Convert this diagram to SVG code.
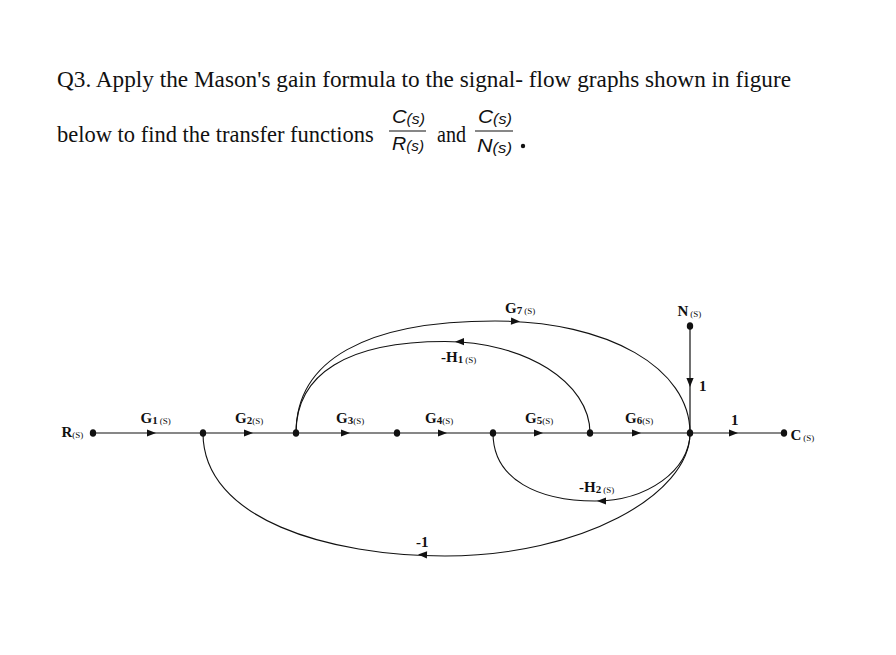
<svg xmlns="http://www.w3.org/2000/svg" xmlns:xlink="http://www.w3.org/1999/xlink" width="896" height="655" viewBox="0 0 896 655">
<style>
.title{font-family:"Liberation Serif","Times New Roman",serif;font-size:22.5px;fill:#111}
.frac{font-family:"Liberation Sans",Arial,sans-serif;font-style:italic;font-size:18px;fill:#111}
.frac tspan.s{font-size:14px}
.lbl{font-family:"Liberation Serif","Times New Roman",serif;font-weight:bold;font-size:15px;fill:#111}
.sub{font-size:11px}
.ss{font-size:9px;font-weight:normal}
.edge{fill:none;stroke:#111;stroke-width:1.2}
.arc{fill:none;stroke:#111;stroke-width:1.1}
.dot{fill:#111}
.ah{fill:#111}
</style>
<defs>
<path id="ah" d="M0,0 L-9,-3.6 L-9,3.6 z"/>
</defs>
<rect width="896" height="655" fill="#fff"/>
<g id="question">
<text class="title" x="57" y="86.5" textLength="734" lengthAdjust="spacingAndGlyphs">Q3. Apply the Mason's gain formula to the signal- flow graphs shown in figure</text>
<text class="title" x="57" y="142">below to find the transfer functions</text>
<text class="frac" x="392" y="123" textLength="33" lengthAdjust="spacingAndGlyphs">C<tspan class="s" dy="1">(s)</tspan></text>
<line x1="389" y1="131" x2="426" y2="131" stroke="#111" stroke-width="1.1"/>
<text class="frac" x="392" y="150" textLength="32" lengthAdjust="spacingAndGlyphs">R<tspan class="s" dy="1">(s)</tspan></text>
<text class="title" x="437" y="142" textLength="29" lengthAdjust="spacingAndGlyphs">and</text>
<text class="frac" x="478" y="123" textLength="34" lengthAdjust="spacingAndGlyphs">C<tspan class="s" dy="1">(s)</tspan></text>
<line x1="475" y1="131" x2="513" y2="131" stroke="#111" stroke-width="1.1"/>
<text class="frac" x="477" y="152" textLength="35" lengthAdjust="spacingAndGlyphs">N<tspan class="s" dy="1">(s)</tspan></text>
<circle cx="523" cy="146" r="2.2" fill="#111"/>
</g>
<g id="connectors">
<path class="edge" d="M93,433 H784"/>
<path class="edge" d="M690,326 V433"/>
<path class="arc" d="M296,433 C296,360 366,321 495,321 C608,321 690,368 690,433"/>
<path class="arc" d="M590,433 C590,382.5 525,341.5 445,341.5 C348,341.5 296,373.5 296,433"/>
<path class="arc" d="M690,433 C690,470 647.5,501 595,501 C539,501 493,480 493,433"/>
<path class="arc" d="M690,433 C690,495 580,556 445,556 C330,556 203,520 203,433"/>
<g class="ah">
<use xlink:href="#ah" href="#ah" transform="translate(156,433)"/>
<use xlink:href="#ah" href="#ah" transform="translate(253,433)"/>
<use xlink:href="#ah" href="#ah" transform="translate(350,433)"/>
<use xlink:href="#ah" href="#ah" transform="translate(447,433)"/>
<use xlink:href="#ah" href="#ah" transform="translate(543,433)"/>
<use xlink:href="#ah" href="#ah" transform="translate(641,433)"/>
<use xlink:href="#ah" href="#ah" transform="translate(738,433)"/>
<use xlink:href="#ah" href="#ah" transform="translate(690,387) rotate(90)"/>
<use xlink:href="#ah" href="#ah" transform="translate(520,321.5) rotate(2)"/>
<use xlink:href="#ah" href="#ah" transform="translate(455,341.7) rotate(180)"/>
<use xlink:href="#ah" href="#ah" transform="translate(597,501) rotate(180)"/>
<use xlink:href="#ah" href="#ah" transform="translate(418,554.6) rotate(182)"/>
</g>
</g>
<g id="labels">
<text class="lbl" x="140.5" y="423">G<tspan class="sub" dy="1">1</tspan><tspan class="ss" dx="2">(S)</tspan></text>
<text class="lbl" x="235" y="423">G<tspan class="sub" dy="1">2</tspan><tspan class="ss">(S)</tspan></text>
<text class="lbl" x="336" y="423">G<tspan class="sub" dy="1">3</tspan><tspan class="ss">(S)</tspan></text>
<text class="lbl" x="425" y="423">G<tspan class="sub" dy="1">4</tspan><tspan class="ss">(S)</tspan></text>
<text class="lbl" x="525" y="423">G<tspan class="sub" dy="1">5</tspan><tspan class="ss">(S)</tspan></text>
<text class="lbl" x="625" y="423">G<tspan class="sub" dy="1">6</tspan><tspan class="ss">(S)</tspan></text>
<text class="lbl" x="731" y="425">1</text>
<text class="lbl" x="505" y="313">G<tspan class="sub" dy="1">7</tspan><tspan class="ss" dx="2">(S)</tspan></text>
<text class="lbl" x="441" y="362">-H<tspan class="sub" dy="1">1</tspan><tspan class="ss" dx="2">(S)</tspan></text>
<text class="lbl" x="579" y="492">-H<tspan class="sub" dy="1">2</tspan><tspan class="ss" dx="2">(S)</tspan></text>
<text class="lbl" x="416" y="547">-1</text>
<text class="lbl" x="677.5" y="315.5">N<tspan class="ss" dx="2" dy="1">(S)</tspan></text>
<text class="lbl" x="699" y="391">1</text>
<text class="lbl" x="61.5" y="437">R<tspan class="ss" dy="1">(S)</tspan></text>
<text class="lbl" x="790.5" y="440">C<tspan class="ss" dx="2" dy="1">(S)</tspan></text>
</g>
<g id="nodes">
<g id="node-R"><ellipse class="dot" cx="93" cy="433" rx="3.2" ry="3.8"/></g>
<g id="node-1"><ellipse class="dot" cx="203" cy="433" rx="3.2" ry="3.8"/></g>
<g id="node-2"><ellipse class="dot" cx="296" cy="433" rx="3.2" ry="3.8"/></g>
<g id="node-3"><ellipse class="dot" cx="397" cy="433" rx="3.2" ry="3.8"/></g>
<g id="node-4"><ellipse class="dot" cx="493" cy="433" rx="3.2" ry="3.8"/></g>
<g id="node-5"><ellipse class="dot" cx="590" cy="433" rx="3.2" ry="3.8"/></g>
<g id="node-6"><ellipse class="dot" cx="690" cy="433" rx="3.2" ry="3.8"/></g>
<g id="node-N"><ellipse class="dot" cx="690" cy="326" rx="3.2" ry="3.8"/></g>
<g id="node-C"><ellipse class="dot" cx="784" cy="433" rx="3.2" ry="3.8"/></g>
</g>
</svg>
